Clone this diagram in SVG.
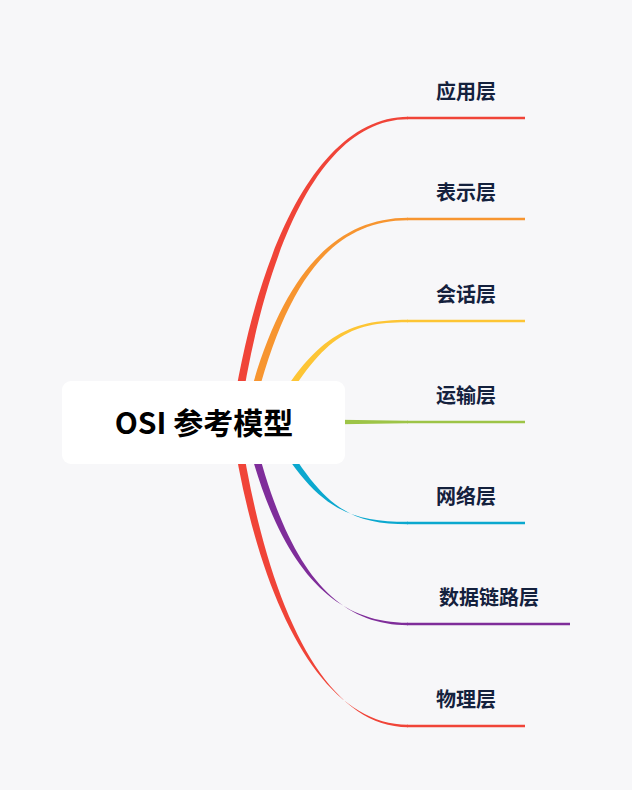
<svg xmlns="http://www.w3.org/2000/svg" width="632" height="790" viewBox="0 0 632 790">
<style>
.l{font-family:"Noto Sans CJK SC","Noto Sans",sans-serif;font-weight:bold;font-size:20px;fill:#14213d;text-anchor:middle}
.h{stroke-width:2.5;fill:none}
</style>
<rect width="632" height="790" fill="#f7f7f9"/>
<g id="connectors">
<path d="M231,422 C256,250 318,117 408,116.8 L408,119.2 C320,119 264,250 239,422Z" fill="#f04438"/>
<line class="h" x1="407" y1="118" x2="525" y2="118" stroke="#f04438"/>
<path d="M243,422 C275,285 328,218 408,217.8 L408,220.2 C330,220 283,285 251,422Z" fill="#f79530"/>
<line class="h" x1="407" y1="219" x2="525" y2="219" stroke="#f79530"/>
<path d="M266,422 C314,335 348,320 408,319.8 L408,322.2 C350,322 322,335 274,422Z" fill="#fdc535"/>
<line class="h" x1="407" y1="321" x2="525" y2="321" stroke="#fdc535"/>
<path d="M250,418.5 L408,420.8 L408,423.2 L250,425.5Z" fill="#9dc447"/>
<line class="h" x1="407" y1="422" x2="525" y2="422" stroke="#9dc447"/>
<path d="M266,422 C314,509 348,522 408,521.8 L408,524.2 C350,524 322,509 274,422Z" fill="#0ba8cf"/>
<line class="h" x1="407" y1="523" x2="525" y2="523" stroke="#0ba8cf"/>
<path d="M243,422 C275,560 328,623 408,622.8 L408,625.2 C330,625 283,560 251,422Z" fill="#7f2d9a"/>
<line class="h" x1="407" y1="624" x2="570" y2="624" stroke="#7f2d9a"/>
<path d="M231,422 C256,594 318,725 408,724.8 L408,727.2 C320,727 264,594 239,422Z" fill="#f04438"/>
<line class="h" x1="407" y1="726" x2="525" y2="726" stroke="#f04438"/>
</g>
<g id="center">
<rect x="62" y="381" width="283" height="83" rx="9" fill="#ffffff"/>
<text x="204" y="434" style="font-family:'Noto Sans CJK SC','Noto Sans',sans-serif;font-weight:bold;font-size:30px;text-anchor:middle" fill="#000">OSI 参考模型</text>
</g>
<g id="n1"><text class="l" x="466" y="99">应用层</text></g>
<g id="n2"><text class="l" x="466" y="200">表示层</text></g>
<g id="n3"><text class="l" x="466" y="302">会话层</text></g>
<g id="n4"><text class="l" x="466" y="403">运输层</text></g>
<g id="n5"><text class="l" x="466" y="504">网络层</text></g>
<g id="n6"><text class="l" x="489" y="605">数据链路层</text></g>
<g id="n7"><text class="l" x="466" y="707">物理层</text></g>
</svg>
